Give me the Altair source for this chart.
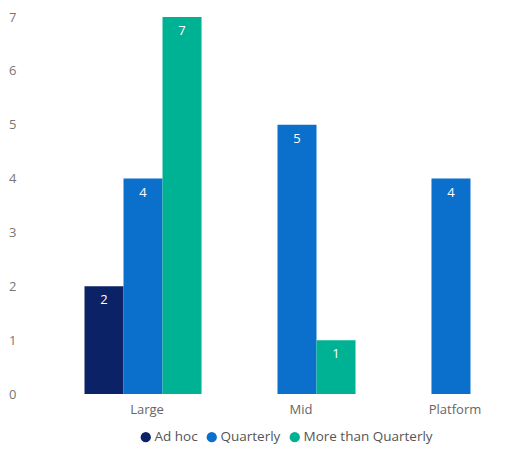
import altair as alt
import pandas as pd

categories = ["Large", "Large", "Large", "Mid", "Mid", "Platform"]
series = ["Ad hoc", "Quarterly", "More than Quarterly", "Quarterly", "More than Quarterly", "Quarterly"]
values = [2, 4, 7, 5, 1, 4]

series_order = ["Ad hoc", "Quarterly", "More than Quarterly"]
series_colors = ["#0c2266", "#0b6fcc", "#00b294"]

df = pd.DataFrame({"size": categories, "cadence": series, "count": values})

FONT = "Open Sans"

base = alt.Chart(df).encode(
    x=alt.X(
        "size:N",
        title=None,
        # the empty third slot of "Platform" runs past the plot edge, as in the original
        scale=alt.Scale(range=[56.5, 481.5], paddingInner=0.24, paddingOuter=0),
        axis=alt.Axis(
            labelAngle=0, domain=False, ticks=False, grid=False,
            labelColor="#666666", labelFontSize=13, labelFont=FONT,
            labelPadding=9, labelOffset=4,
        ),
    ),
    xOffset=alt.XOffset(
        "cadence:N",
        sort=series_order,
        scale=alt.Scale(domain=series_order, paddingInner=0, paddingOuter=0),
    ),
    y=alt.Y(
        "count:Q",
        title=None,
        scale=alt.Scale(domain=[0, 7], nice=False),
        axis=alt.Axis(
            values=list(range(8)), domain=False, ticks=False, grid=False,
            labelColor="#777777", labelFontSize=13, labelFont=FONT,
            labelPadding=12,
        ),
    ),
)

bars = base.mark_bar().encode(
    color=alt.Color(
        "cadence:N",
        sort=series_order,
        scale=alt.Scale(domain=series_order, range=series_colors),
        legend=alt.Legend(
            title=None, orient="none", direction="horizontal",
            legendX=111, legendY=413,
            symbolType="circle", symbolSize=105, symbolStrokeWidth=0,
            labelFontSize=13.5, labelFont=FONT, labelColor="#555555",
            labelOffset=2, columnPadding=7,
        ),
    )
)

labels = base.mark_text(
    color="white", fontSize=13, font=FONT, baseline="middle", dy=14
).encode(text="count:Q")

chart = (
    alt.layer(bars, labels)
    .properties(width=476, height=377, padding={"left": 0, "top": 3, "right": 0, "bottom": 0})
    .configure_view(stroke=None)
)

chart.save("out.html", embed_options={"renderer": "svg", "actions": False})
